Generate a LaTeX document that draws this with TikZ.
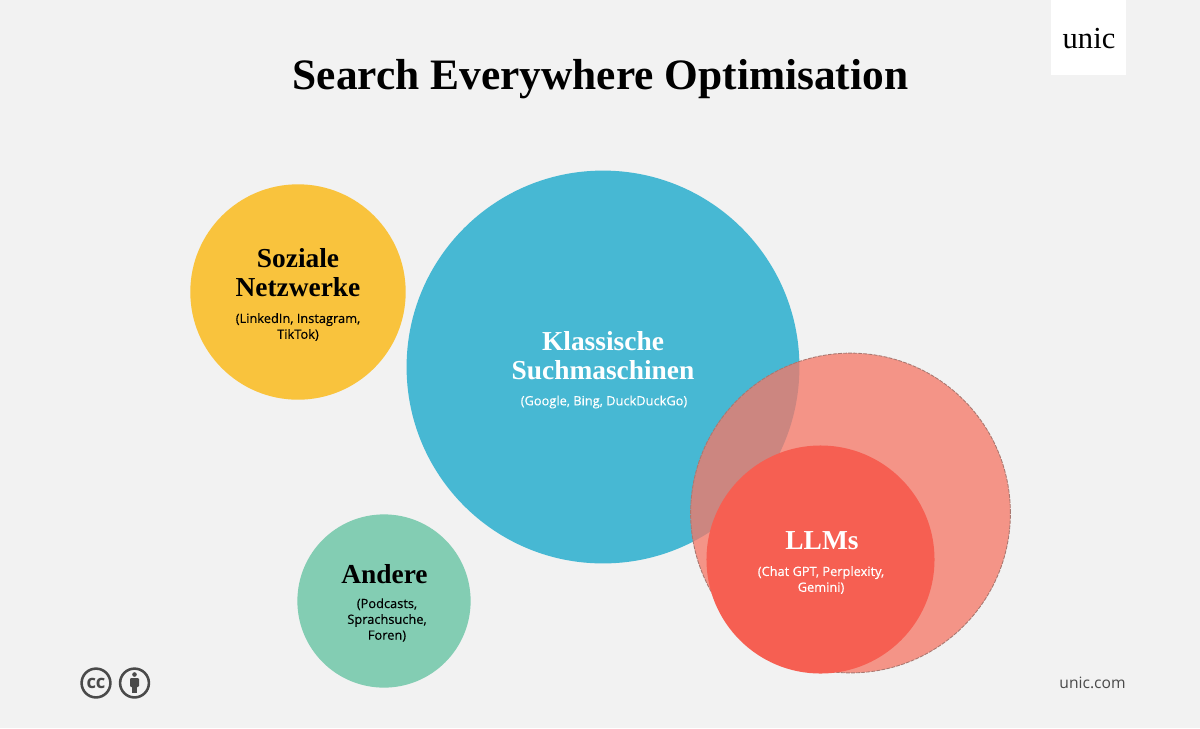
\documentclass[tikz,border=0pt]{standalone}
\usepackage{fontspec}
\setmainfont{Liberation Serif}
\setsansfont{Open Sans}
\newfontfamily\subfont{Open Sans}[FakeBold=0.3]
\usepackage{tikz}
\definecolor{bggray}{HTML}{F2F2F2}
\definecolor{socyellow}{HTML}{F9C33D}
\definecolor{searchblue}{HTML}{47B8D3}
\definecolor{othergreen}{HTML}{83CDB3}
\definecolor{llmred}{HTML}{F65F52}
\definecolor{aired}{HTML}{F57868}
\definecolor{ringred}{HTML}{A97870}
\definecolor{icongray}{HTML}{4A4A4A}
\tikzset{
  bubble/.style={circle,inner sep=0pt,align=center},
  headline/.style={font=\bfseries\fontsize{15.6}{16.8}\selectfont,align=center,inner sep=0pt},
  subline/.style={font=\subfont\fontsize{7.3}{9}\selectfont,align=center,inner sep=0pt},
  ccring/.style={circle,draw=icongray,line width=1.45pt,minimum size=16.4pt,inner sep=0pt},
}
\begin{document}
\begin{tikzpicture}[x=0.02cm,y=-0.02cm]
        \useasboundingbox (0,0) rectangle (1200,728) ;
        \fill[bggray] (0,0) rectangle (1200,728) ;
        \fill[white] (1051,0) rectangle (1126,75) ;
        \node[inner sep=0pt,font=\fontsize{17.4}{17.4}\selectfont] (logo) at (1089,39) {unic} ;
        \node[inner sep=0pt,font=\bfseries\fontsize{24.7}{24.7}\selectfont] (title) at (600.5,79)
        {Search Everywhere Optimisation} ;
        % circles
        \node[bubble,fill=socyellow,minimum size=122.6pt] (social) at (298,292) {} ;
        \node[bubble,fill=searchblue,minimum size=223.6pt] (search) at (603,367) {} ;
        \node[bubble,fill=othergreen,minimum size=98.6pt] (other) at (384,601) {} ;
        \node[bubble,fill=aired,fill opacity=0.77,draw=ringred,
        line width=0.5pt,dash pattern=on 2.2pt off 0.7pt,minimum size=182pt] (ai) at (850.5,513) {} ;
        \node[bubble,fill=llmred,minimum size=129.8pt] (llm) at (820.5,559.5) {} ;
        % labels
        \node[headline] (socialhead) at (298,272.5) {Soziale\\Netzwerke} ;
        \node[subline] (socialsub) at (298,327) {(LinkedIn, Instagram,\\TikTok)} ;
        \node[headline,white] (searchhead) at (603,355.5) {Klassische\\Suchmaschinen} ;
        \node[subline,white] (searchsub) at (604,402) {(Google, Bing, DuckDuckGo)} ;
        \node[headline] (otherhead) at (384.5,574) {Andere} ;
        \node[subline] (othersub) at (387,620) {(Podcasts,\\Sprachsuche,\\Foren)} ;
        \node[headline,white] (llmhead) at (822,541) {LLMs} ;
        \node[subline,white] (llmsub) at (821,580) {(Chat GPT, Perplexity,\\Gemini)} ;
        % footer
        \node[ccring,text=icongray,font=\sffamily\bfseries\fontsize{10.5}{10.5}\selectfont] (cc) at (96,683) {cc} ;
        \node[ccring] (by) at (134.5,683) {} ;
        \fill[icongray] (134.5,674.5) circle (2.3) ;
        \fill[icongray,rounded corners=0.6pt] (130,678) rectangle (139,687) ;
        \fill[icongray] (132,686) rectangle (137,693) ;
        \node[anchor=east,inner sep=0pt,text=icongray,font=\sffamily\fontsize{8.9}{9}\selectfont] (site) at (1126,683) {unic.com} ;
      \end{tikzpicture}
\end{document}
